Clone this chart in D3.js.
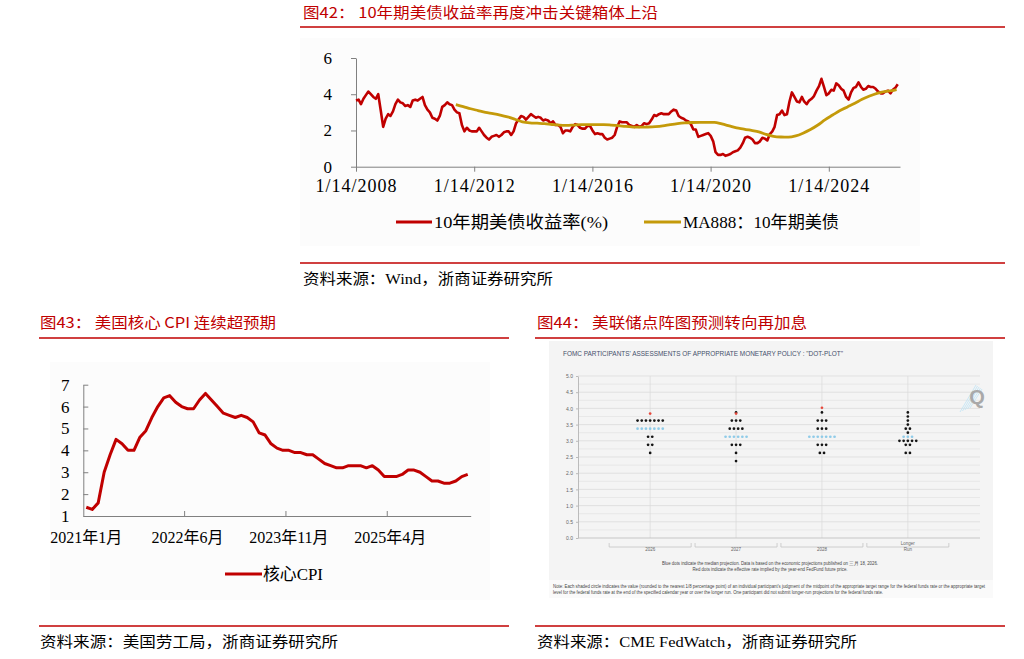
<!DOCTYPE html>
<html><head><meta charset="utf-8">
<script src="https://cdn.jsdelivr.net/npm/d3@7"></script>
<style>body{margin:0;background:#fff}svg{display:block}</style>
</head><body>
<svg id="c" width="1024" height="659"></svg>
<script>
// ---------------- DATA ----------------
// 10Y UST yield, monthly, starting 2008-01
const yieldStart = [2008, 0];
const yieldValues = [
3.65,3.7,3.45,3.75,3.95,4.15,4.0,3.85,3.75,4.0,3.1,2.2,
2.65,2.9,2.8,3.05,3.45,3.7,3.55,3.5,3.35,3.4,3.3,3.65,
3.7,3.65,3.75,3.85,3.4,3.15,3.0,2.7,2.65,2.55,2.8,3.3,
3.4,3.55,3.45,3.4,3.15,3.0,2.95,2.3,1.95,2.15,2.0,1.95,
1.95,1.95,2.15,1.95,1.75,1.6,1.5,1.65,1.7,1.75,1.65,1.75,
1.9,1.95,1.95,1.75,1.95,2.4,2.6,2.8,2.75,2.6,2.75,2.9,
2.8,2.7,2.75,2.7,2.55,2.6,2.55,2.4,2.5,2.3,2.3,2.2,
1.85,2.0,2.0,1.95,2.2,2.35,2.3,2.15,2.1,2.1,2.25,2.25,
2.0,1.8,1.85,1.8,1.8,1.6,1.5,1.55,1.6,1.75,2.2,2.5,
2.45,2.45,2.45,2.3,2.25,2.2,2.3,2.2,2.25,2.4,2.35,2.4,
2.6,2.85,2.8,2.9,2.95,2.9,2.9,2.9,3.05,3.15,3.1,2.8,
2.7,2.65,2.55,2.5,2.35,2.05,2.05,1.65,1.7,1.75,1.8,1.85,
1.7,1.4,0.8,0.65,0.65,0.7,0.6,0.65,0.7,0.8,0.85,0.9,
1.05,1.3,1.6,1.65,1.6,1.5,1.3,1.3,1.4,1.6,1.55,1.45,
1.8,1.95,2.2,2.85,2.9,3.1,2.85,2.9,3.6,4.1,3.85,3.6,
3.55,3.85,3.6,3.45,3.65,3.75,3.9,4.2,4.45,4.85,4.4,3.95,
4.05,4.25,4.2,4.6,4.5,4.3,4.2,3.85,3.7,4.1,4.35,4.4,
4.65,4.4,4.25,4.3,4.45,4.4,4.4,4.3,4.15,4.05,4.05,4.15,
4.2,4.05,4.25,4.35,4.55
];
// MA888 of 10Y yield
const maDates = ["2011-06","2011-09","2011-12","2012-03","2012-06","2012-09","2012-12","2013-03","2013-06","2013-09","2013-12",
"2014-03","2014-06","2014-09","2014-12","2015-03","2015-06","2015-09","2015-12","2016-03","2016-06","2016-09","2016-12",
"2017-03","2017-06","2017-09","2017-12","2018-03","2018-06","2018-09","2018-12","2019-03","2019-06","2019-09","2019-12",
"2020-03","2020-06","2020-09","2020-12","2021-03","2021-06","2021-09","2021-12","2022-03","2022-06","2022-09","2022-12",
"2023-03","2023-06","2023-09","2023-12","2024-03","2024-06","2024-09","2024-12","2025-03","2025-06","2025-09","2025-12",
"2026-03","2026-05"];
const maValues = [3.43,3.32,3.2,3.1,3.0,2.93,2.85,2.75,2.62,2.48,2.42,
2.40,2.38,2.33,2.29,2.28,2.30,2.32,2.32,2.32,2.32,2.30,2.27,
2.22,2.19,2.18,2.19,2.21,2.25,2.32,2.38,2.42,2.44,2.45,2.45,
2.45,2.36,2.25,2.14,2.08,2.00,1.92,1.78,1.68,1.64,1.63,1.70,
1.85,2.05,2.3,2.6,2.85,3.1,3.3,3.5,3.72,3.9,4.05,4.15,
4.2,4.26];
const yieldTickDates = ["2008-01-14","2012-01-14","2016-01-14","2020-01-14","2024-01-14"];
const yieldTickLabels = ["1/14/2008","1/14/2012","1/14/2016","1/14/2020","1/14/2024"];
const yieldYTicks = [0,2,4,6];

// US core CPI YoY, monthly from 2021-01
const cpiStart = [2021, 1];
const cpiValues = [
1.4,1.3,1.6,3.0,3.8,4.5,4.3,4.0,4.0,4.6,4.9,5.5,
6.0,6.4,6.5,6.2,6.0,5.9,5.9,6.3,6.6,6.3,6.0,5.7,
5.6,5.5,5.6,5.5,5.3,4.8,4.7,4.3,4.1,4.0,4.0,3.9,
3.9,3.8,3.8,3.6,3.4,3.3,3.2,3.2,3.3,3.3,3.3,3.2,
3.3,3.1,2.8,2.8,2.8,2.9,3.1,3.1,3.0,2.8,2.6,2.6,
2.5,2.5,2.6,2.8,2.9];
const cpiTickIdx = [0,17,34,51];
const cpiYTicks = [1,2,3,4,5,6,7];

// FOMC dot plot
const dotCategories = ["2026","2027","2028","Longer Run"];
const dotRate = {
  "2026": [[3.625,7],[3.125,2],[2.875,2],[2.625,1]],
  "2027": [[3.875,1],[3.625,3],[3.375,4],[2.875,3],[2.625,1],[2.375,1]],
  "2028": [[3.875,1],[3.625,3],[3.375,3],[2.875,3],[2.625,2]],
  "Longer Run": [[3.875,1],[3.75,1],[3.625,1],[3.5,1],[3.375,2],[3.25,1],[3.0,5],[2.875,2],[2.625,2]]
};
const dotMedian = {"2026":[3.375,7],"2027":[3.125,6],"2028":[3.125,7],"Longer Run":[3.125,3]};
const dotFutures = {"2026":3.84,"2027":3.84,"2028":4.02};
const dotYTicks = [0,0.5,1,1.5,2,2.5,3,3.5,4,4.5,5];

// ---------------- DRAW ----------------
const svg = d3.select("#c");
const RED = "#c00000";
const FONT = "'Liberation Serif','Noto Sans CJK SC',serif";
const CJK = "'Noto Sans CJK SC','Liberation Serif',sans-serif";

function rule(x1,x2,y){svg.append("line").attr("x1",x1).attr("x2",x2).attr("y1",y).attr("y2",y).attr("stroke",RED).attr("stroke-width",1.6);}
function txt(x,y,s,size,fill,fam,anchor){return svg.append("text").attr("x",x).attr("y",y).text(s).attr("font-size",size).attr("fill",fill||"#000").attr("font-family",fam||FONT).attr("text-anchor",anchor||"start");}

// ===== Chart 42 =====
txt(303,18,"图42：  10年期美债收益率再度冲击关键箱体上沿",15,RED,CJK).attr("textLength",355).attr("lengthAdjust","spacingAndGlyphs");
rule(300,1005,27);
svg.append("rect").attr("x",300).attr("y",38).attr("width",620).attr("height",208).attr("fill","#fcfcfc");

const parseM = d3.timeParse("%Y-%m");
const parseD = d3.timeParse("%Y-%m-%d");
const yieldData = yieldValues.map((v,i)=>({d:new Date(yieldStart[0], yieldStart[1]+i, i===0?14:15), v}));
const maData = maDates.map((s,i)=>({d:parseM(s), v:maValues[i]}));
const x1 = d3.scaleTime().domain([parseD("2008-01-14"), parseD("2026-06-12")]).range([356,900]);
const y1 = d3.scaleLinear().domain([0,6]).range([166.7,58]);

const gx1 = svg.append("g").attr("transform","translate(0,166.7)")
  .call(d3.axisBottom(x1).tickValues(yieldTickDates.map(parseD)).tickFormat((d,i)=>yieldTickLabels[i]).tickSize(5).tickSizeOuter(0));
gx1.select(".domain").attr("stroke","#808080");
gx1.selectAll(".tick line").attr("stroke","#808080");
gx1.selectAll("text").attr("font-family",FONT).attr("font-size",18).attr("fill","#000").attr("letter-spacing",1).attr("dy","0.95em");
const gy1 = svg.append("g").attr("transform","translate(356,0)")
  .call(d3.axisLeft(y1).tickValues(yieldYTicks).tickFormat(d3.format("d")).tickSize(5).tickSizeOuter(0));
gy1.select(".domain").attr("stroke","#808080");
gy1.selectAll(".tick line").attr("stroke","#808080");
gy1.selectAll("text").attr("font-family",FONT).attr("font-size",17).attr("fill","#000").attr("x",-24);

const line1 = d3.line().x(d=>x1(d.d)).y(d=>y1(d.v));
svg.append("path").datum(yieldData).attr("d",line1).attr("fill","none").attr("stroke",RED).attr("stroke-width",2.6).attr("stroke-linejoin","round");
svg.append("path").datum(maData).attr("d",line1.curve(d3.curveMonotoneX)).attr("fill","none").attr("stroke","#c49a0a").attr("stroke-width",2.8);

// legend
svg.append("line").attr("x1",396).attr("x2",432).attr("y1",222).attr("y2",222).attr("stroke",RED).attr("stroke-width",3);
txt(434,228,"10年期美债收益率(%)",17,"#000").attr("textLength",174).attr("lengthAdjust","spacingAndGlyphs");
svg.append("line").attr("x1",644).attr("x2",681).attr("y1",222).attr("y2",222).attr("stroke","#c49a0a").attr("stroke-width",3);
txt(683,228,"MA888：10年期美债",17,"#000").attr("textLength",156).attr("lengthAdjust","spacingAndGlyphs");

rule(300,1005,263);
txt(303,284,"资料来源：Wind，浙商证券研究所",15,"#000").attr("textLength",250).attr("lengthAdjust","spacingAndGlyphs");

// ===== Chart 43 =====
txt(40,328,"图43：  美国核心 CPI 连续超预期",15,RED,CJK).attr("textLength",236).attr("lengthAdjust","spacingAndGlyphs");
rule(39,509,338);
svg.append("rect").attr("x",50).attr("y",362).attr("width",440).attr("height",238).attr("fill","#fcfcfc");

const x2 = d3.scaleBand().domain(d3.range(cpiValues.length)).range([83.3,470.7]);
const y2 = d3.scaleLinear().domain([1,7]).range([516,384.7]);
const cpiLabel = i => { const m = (cpiStart[1]-1+i); return (cpiStart[0]+Math.floor(m/12))+"年"+(m%12+1)+"月"; };
const gx2 = svg.append("g").attr("transform","translate(0,516)")
  .call(d3.axisBottom(x2).tickValues(cpiTickIdx).tickFormat(cpiLabel).tickSize(0).tickSizeOuter(0));
gx2.select(".domain").attr("stroke","#808080");
gx2.selectAll("text").attr("font-family",FONT).attr("font-size",16).attr("fill","#000").attr("dy","1.5em");
cpiTickIdx.slice(1).forEach(i=>{
  svg.append("line").attr("x1",x2(i)).attr("x2",x2(i)).attr("y1",516).attr("y2",511).attr("stroke","#808080");
});
const gy2 = svg.append("g").attr("transform","translate(83.3,0)")
  .call(d3.axisRight(y2).tickValues(cpiYTicks).tickFormat(d3.format("d")).tickSize(5).tickSizeOuter(0));
gy2.select(".domain").attr("stroke","#808080");
gy2.selectAll(".tick line").attr("stroke","#808080");
gy2.selectAll("text").attr("font-family",FONT).attr("font-size",17).attr("fill","#000").attr("x",-18).attr("text-anchor","middle");
const line2 = d3.line().x((d,i)=>x2(i)+x2.bandwidth()/2).y(d=>y2(d));
svg.append("path").datum(cpiValues).attr("d",line2).attr("fill","none").attr("stroke",RED).attr("stroke-width",3).attr("stroke-linejoin","round");
svg.append("line").attr("x1",225).attr("x2",262).attr("y1",574).attr("y2",574).attr("stroke",RED).attr("stroke-width",3);
txt(263,580,"核心CPI",17,"#000").attr("textLength",60).attr("lengthAdjust","spacingAndGlyphs");

rule(39,509,626);
txt(40,647,"资料来源：美国劳工局，浙商证券研究所",15,"#000").attr("textLength",298).attr("lengthAdjust","spacingAndGlyphs");

// ===== Chart 44 =====
txt(537,328,"图44：  美联储点阵图预测转向再加息",15,RED,CJK).attr("textLength",270).attr("lengthAdjust","spacingAndGlyphs");
rule(535,1005,338);
svg.append("rect").attr("x",549).attr("y",341).attr("width",444).attr("height",239).attr("fill","#f4f4f4");
svg.append("rect").attr("x",549).attr("y",580).attr("width",444).attr("height",18).attr("fill","#fafafa");
txt(563,356,"FOMC PARTICIPANTS' ASSESSMENTS OF APPROPRIATE MONETARY POLICY : \"DOT-PLOT\"",7,"#44506a","Liberation Sans, Arial, sans-serif").attr("textLength",280).attr("lengthAdjust","spacingAndGlyphs");

const xD = d3.scalePoint().domain(dotCategories).range([578,980]).padding(0.84);
const yD = d3.scaleLinear().domain([0,5]).range([538,376]);
// grid
d3.range(1,21).forEach(k=>{
  const v = k*0.25;
  svg.append("line").attr("x1",578).attr("x2",980).attr("y1",yD(v)).attr("y2",yD(v)).attr("stroke", k%2===0?"#d8d8d8":"#e2e2e2").attr("stroke-width",0.7);
});
dotCategories.forEach(c=>{
  svg.append("line").attr("x1",xD(c)).attr("x2",xD(c)).attr("y1",yD(5)).attr("y2",yD(0)).attr("stroke","#dadada").attr("stroke-width",0.7);
});
const gyD = svg.append("g").attr("transform","translate(578,0)")
  .call(d3.axisLeft(yD).tickValues(dotYTicks).tickFormat(d3.format(".1f")).tickSize(2).tickSizeOuter(0));
gyD.select(".domain").attr("stroke","#bbb");
gyD.selectAll(".tick line").attr("stroke","#bbb");
gyD.selectAll("text").attr("font-family","Liberation Sans, Arial, sans-serif").attr("font-size",5).attr("fill","#666");
svg.append("line").attr("x1",578).attr("x2",980).attr("y1",538).attr("y2",538).attr("stroke","#bbb").attr("stroke-width",0.8);
// category brackets
dotCategories.forEach(c=>{
  const cx = xD(c);
  svg.append("path").attr("d",`M${cx-41},543V547H${cx+41}V543`).attr("fill","none").attr("stroke","#c4c4c4").attr("stroke-width",0.8);
  if (c==="Longer Run") {
    txt(cx,545,"Longer",4.5,"#666","Liberation Sans, Arial, sans-serif","middle");
    txt(cx,550.5,"Run",4.5,"#666","Liberation Sans, Arial, sans-serif","middle");
  } else {
    txt(cx,551,c,4.5,"#666","Liberation Sans, Arial, sans-serif","middle");
  }
});
// dots
const step = 4.2, rr = 1.35;
function row(c, rate, n, color){
  for (let j=0;j<n;j++){
    svg.append("circle").attr("cx", xD(c) + (j-(n-1)/2)*step).attr("cy", yD(rate)).attr("r", rr).attr("fill", color);
  }
}
dotCategories.forEach(c=>{
  dotRate[c].forEach(([r,n])=>row(c,r,n,"#141414"));
  row(c, dotMedian[c][0], dotMedian[c][1], "#8fcbe8");
  if (dotFutures[c]!==undefined) row(c, dotFutures[c], 1, "#e8483c");
});
// logo
const lg = svg.append("g");
[0,1,2,3,4].forEach(k=>{
  lg.append("line").attr("x1",960+k*2.5).attr("y1",412-k*1).attr("x2",976+k*1.5).attr("y2",385+k*1).attr("stroke","#bfe3f5").attr("stroke-width",0.8);
});
lg.append("text").attr("x",977).attr("y",404).text("Q").attr("font-family","Liberation Sans, Arial, sans-serif").attr("font-weight","bold").attr("font-size",20).attr("fill","#a9a9a9").attr("text-anchor","middle");
// notes
txt(770,564.5,"Blue dots indicate the median projection. Data is based on the economic projections published on 三月 18, 2026.",4.5,"#444","Liberation Sans, Arial, sans-serif","middle").attr("textLength",216).attr("lengthAdjust","spacingAndGlyphs");
txt(770,570.5,"Red dots indicate the effective rate implied by the year-end FedFund future price.",4.5,"#444","Liberation Sans, Arial, sans-serif","middle").attr("textLength",155).attr("lengthAdjust","spacingAndGlyphs");
txt(553,588,"Note: Each shaded circle indicates the value (rounded to the nearest 1/8 percentage point) of an individual participant's judgment of the midpoint of the appropriate target range for the federal funds rate or the appropriate target",4.5,"#444","Liberation Sans, Arial, sans-serif").attr("textLength",432).attr("lengthAdjust","spacingAndGlyphs");
txt(553,594,"level for the federal funds rate at the end of the specified calendar year or over the longer run. One participant did not submit longer-run projections for the federal funds rate.",4.5,"#444","Liberation Sans, Arial, sans-serif").attr("textLength",330).attr("lengthAdjust","spacingAndGlyphs");

rule(535,1005,626);
txt(537,647,"资料来源：CME FedWatch，浙商证券研究所",15,"#000").attr("textLength",320).attr("lengthAdjust","spacingAndGlyphs");
</script>
</body></html>
